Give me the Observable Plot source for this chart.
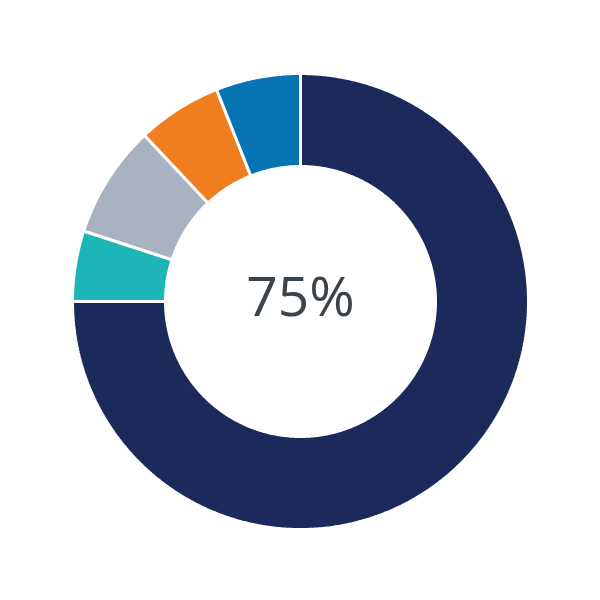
<!DOCTYPE html>
<html>
<head>
<meta charset="utf-8">
<script src="https://cdn.jsdelivr.net/npm/d3@7"></script>
<script src="https://cdn.jsdelivr.net/npm/@observablehq/plot@0.6"></script>
<style>
  html, body { margin: 0; padding: 0; background: #fff; }
</style>
</head>
<body>
<div id="chart"></div>
<script>
const categories = ["A", "B", "C", "D", "E"];
const values = [75, 5, 8, 6, 6];
const colors = ["#1b2a5b", "#1db6b8", "#a9b2c0", "#f07e1f", "#0673b3"];
const centerLabel = "75%";

const outerR = 228, innerR = 135;
const pie = d3.pie().sort(null).value(d => d.value);
const arcs = pie(categories.map((c, i) => ({category: c, value: values[i]})));

// sample arcs as polygons
const pts = [];
arcs.forEach(a => {
  const n = Math.max(8, Math.ceil((a.endAngle - a.startAngle) * 120));
  for (let k = 0; k <= n; k++) {
    const t = a.startAngle + (a.endAngle - a.startAngle) * k / n;
    pts.push({category: a.data.category, x: outerR * Math.sin(t), y: outerR * Math.cos(t)});
  }
  for (let k = n; k >= 0; k--) {
    const t = a.startAngle + (a.endAngle - a.startAngle) * k / n;
    pts.push({category: a.data.category, x: innerR * Math.sin(t), y: innerR * Math.cos(t)});
  }
});

const chart = Plot.plot({
  width: 600,
  height: 600,
  margin: 0,
  x: {domain: [-300, 300], axis: null},
  y: {domain: [-299, 301], axis: null},
  color: {domain: categories, range: colors},
  marks: [
    Plot.line(pts, {x: "x", y: "y", z: "category", fill: "category", stroke: "white", strokeWidth: 3, curve: "linear-closed", strokeLinejoin: "miter"}),
    Plot.text([centerLabel], {x: () => 0, y: () => 0, text: d => d, fontSize: 55, fill: "#3b434b", fontFamily: "Open Sans", textAnchor: "middle", lineAnchor: "middle", dy: -3})
  ]
});
document.getElementById("chart").appendChild(chart);
</script>
</body>
</html>
